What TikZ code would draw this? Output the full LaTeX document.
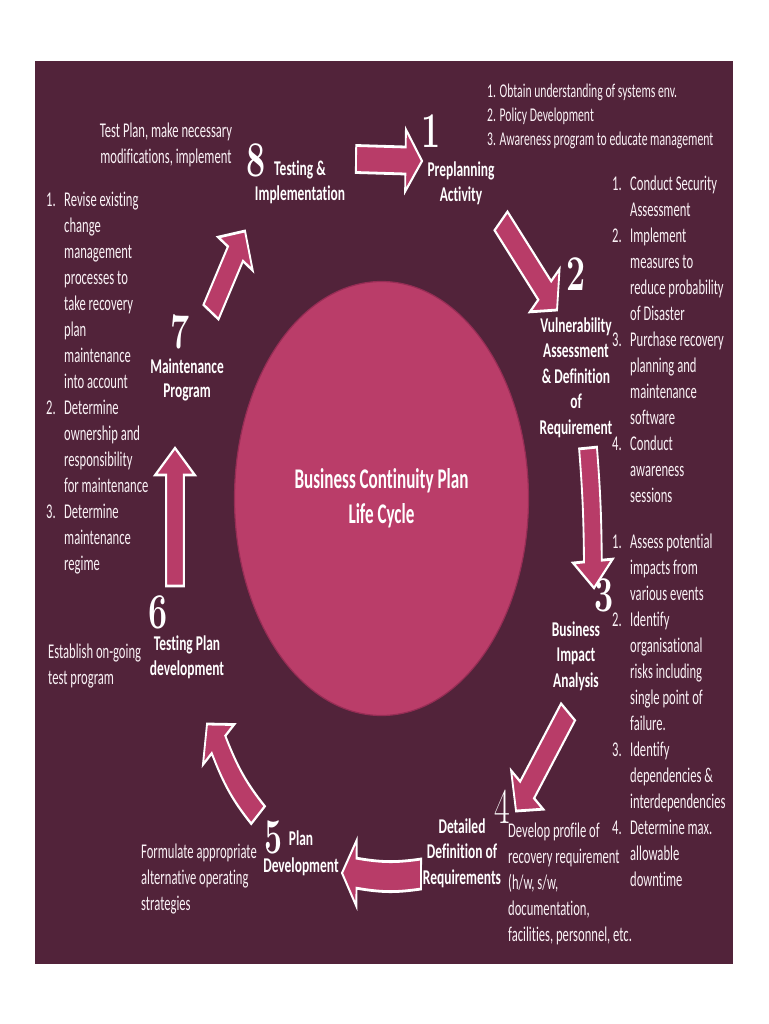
\documentclass[tikz,border=0pt]{standalone}
\usepackage{fontspec}
\usetikzlibrary{calc,shapes.geometric}
\newfontfamily\bcpfont{Carlito}[FakeStretch=0.6,Ligatures=NoCommon]
\newfontfamily\bcpbold{Carlito}[FakeStretch=0.64,Ligatures=NoCommon]
\definecolor{bgplum}{RGB}{82,35,58}
\definecolor{corepink}{RGB}{186,61,105}
\definecolor{coreedge}{RGB}{150,45,85}
\definecolor{arrowpink}{RGB}{184,60,104}
\definecolor{txtwhite}{RGB}{250,242,246}
\newcommand\sq{0.66}
\newcommand\fs{\rule{0pt}{17pt}}
\newcommand\itm[1]{\makebox[18pt][l]{#1}}
\newcommand\ind{\hspace*{18pt}}
% block arrow: #1 tail, #2 tip, #3 shaft half width, #4 head half width, #5 head length, #6 bend angle
\newcommand\bcparrow[6]{%
  \path ($(#2)!#5!(#1)$) coordinate (hb);
  \draw[arrowshape] ($(#1)!#3!90:(#2)$) to[bend left=#6] ($(hb)!#3!90:(#2)$) -- ($(hb)!#4!90:(#2)$) -- (#2)
    -- ($(hb)!#4!-90:(#2)$) -- ($(hb)!#3!-90:(#2)$) to[bend right=#6] ($(#1)!#3!-90:(#2)$) -- cycle;
}
\tikzset{
  arrowshape/.style={fill=arrowpink, draw=white, line width=2.8pt, line join=miter},
  lst/.style={font=\bcpfont\fontsize{21}{26}\selectfont, text=txtwhite, align=left, inner sep=0pt, anchor=north west},
  toplst/.style={font=\bcpfont\fontsize{19.5}{24}\selectfont, text=txtwhite, align=left, inner sep=0pt, anchor=north west},
  lbl/.style={font=\bcpbold\bfseries\fontsize{21}{25.5}\selectfont, text=white, align=center, inner sep=0pt, anchor=north},
  num/.style={font=\bfseries\fontsize{50}{50}\selectfont, text=white, inner sep=0pt, anchor=base},
}
\begin{document}
\begin{tikzpicture}[x=1pt,y=-1pt]
\useasboundingbox (0,0) rectangle (768,1024);
\fill[white] (0,0) rectangle (768,1024);
\fill[bgplum] (35,61) rectangle (733,964);

% centre
\node[ellipse, fill=corepink, draw=coreedge, line width=1.2pt, minimum width=294pt, minimum height=434pt, inner sep=0pt,
      font=\bcpfont\bfseries\fontsize{28.5}{35}\selectfont, text=white, align=center] (core) at (381.5,498.5)
      {Business Continuity Plan\\Life Cycle};

% arrows (drawn in unsquished space, then squished horizontally)
\begin{scope}[transform canvas={xscale=\sq}]
  \coordinate (aAs) at ({356/\sq},159);  \coordinate (aAe) at ({422/\sq},161);
  \coordinate (aBs) at ({501/\sq},221);  \coordinate (aBe) at ({557/\sq},310);
  \coordinate (aCs) at ({588/\sq},448);  \coordinate (aCe) at ({594/\sq},588);
  \coordinate (aDs) at ({568/\sq},712);  \coordinate (aDe) at ({516/\sq},811);
  \coordinate (aEs) at ({421/\sq},874);  \coordinate (aEe) at ({342/\sq},873);
  \coordinate (aFs) at ({258/\sq},815);  \coordinate (aFe) at ({207/\sq},724);
  \coordinate (aGs) at ({175/\sq},586);  \coordinate (aGe) at ({175/\sq},448);
  \coordinate (aHs) at ({211/\sq},312);  \coordinate (aHe) at ({245/\sq},231);
  \bcparrow{aAs}{aAe}{13.5pt}{31pt}{25pt}{0}
  \bcparrow{aBs}{aBe}{13.5pt}{31pt}{27pt}{0}
  \bcparrow{aCs}{aCe}{13.5pt}{30pt}{27pt}{3}
  \bcparrow{aDs}{aDe}{13.5pt}{31pt}{27pt}{0}
  \bcparrow{aEs}{aEe}{15pt}{33pt}{22pt}{6}
  \bcparrow{aFs}{aFe}{13.5pt}{31pt}{27pt}{10}
  \bcparrow{aGs}{aGe}{13.5pt}{30pt}{27pt}{0}
  \bcparrow{aHs}{aHe}{13.5pt}{31pt}{27pt}{0}
\end{scope}

% numbers
\node[num] (n1) at (431,148) {\scalebox{0.68}[1]{1}};
\node[num] (n2) at (576,290) {\scalebox{0.68}[1]{2}};
\node[num] (n3) at (604,611) {\scalebox{0.68}[1]{3}};
\node[num] (n4) at (502,823) {\scalebox{0.68}[1]{\mdseries 4}};
\node[num] (n5) at (274,853) {\scalebox{0.64}[1]{5}};
\node[num] (n6) at (158,628) {\scalebox{0.68}[1]{6}};
\node[num] (n7) at (180,348) {\scalebox{0.68}[1]{7}};
\node[num] (n8) at (256,177) {\scalebox{0.68}[1]{8}};

% step labels
\node[lbl] (l8) at (300,158) {\fs Testing \&\\Implementation};
\node[lbl] (l1) at (461,159) {\fs Preplanning\\Activity};
\node[lbl] (l2) at (576,315) {\fs Vulnerability\\Assessment\\\& Definition\\of\\Requirement};
\node[lbl] (l3) at (576,619) {\fs Business\\Impact\\Analysis};
\node[lbl] (l4) at (462,816) {\fs Detailed\\Definition of\\Requirements};
\node[lbl, font=\bcpbold\bfseries\fontsize{21}{27}\selectfont] (l5) at (301,828) {\fs Plan\\Development};
\node[lbl] (l6) at (187,633) {\fs Testing Plan\\development};
\node[lbl, font=\bcpbold\bfseries\fontsize{21}{24.5}\selectfont] (l7) at (187,356) {\fs Maintenance\\Program};

% descriptions
\node[toplst] (d1) at (487,80) {\fs 1. Obtain understanding of systems env.\\2. Policy Development\\3. Awareness program to educate management};

\node[lst] (d2) at (612,173) {\fs\itm{1.}Conduct Security\\\ind Assessment\\\itm{2.}Implement\\\ind measures to\\\ind reduce probability\\\ind of Disaster\\\itm{3.}Purchase recovery\\\ind planning and\\\ind maintenance\\\ind software\\\itm{4.}Conduct\\\ind awareness\\\ind sessions};

\node[lst] (d3) at (612,531) {\fs\itm{1.}Assess potential\\\ind impacts from\\\ind various events\\\itm{2.}Identify\\\ind organisational\\\ind risks including\\\ind single point of\\\ind failure.\\\itm{3.}Identify\\\ind dependencies \&\\\ind interdependencies\\\itm{4.}Determine max.\\\ind allowable\\\ind downtime};

\node[lst] (d4) at (508,820) {\fs Develop profile of\\recovery requirement\\(h/w, s/w,\\documentation,\\facilities, personnel, etc.};

\node[lst] (d5) at (141,841) {\fs Formulate appropriate\\alternative operating\\strategies};

\node[lst] (d6) at (48,641) {\fs Establish on-going\\test program};

\node[lst] (d7) at (46,189) {\fs\itm{1.}Revise existing\\\ind change\\\ind management\\\ind processes to\\\ind take recovery\\\ind plan\\\ind maintenance\\\ind into account\\\itm{2.}Determine\\\ind ownership and\\\ind responsibility\\\ind for maintenance\\\itm{3.}Determine\\\ind maintenance\\\ind regime};

\node[lst, align=center, anchor=north] (d8) at (166,120) {\fs Test Plan, make necessary\\modifications, implement};
\end{tikzpicture}
\end{document}
